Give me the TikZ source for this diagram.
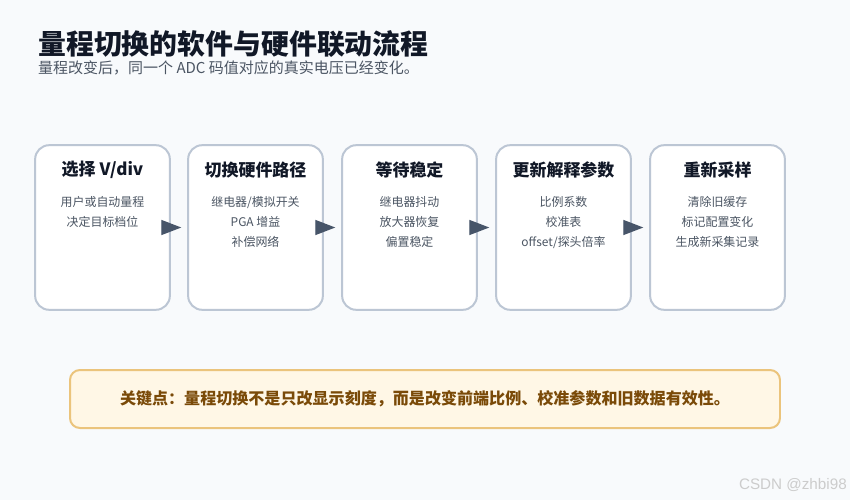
\documentclass[tikz,border=0pt]{standalone}
\usepackage{fontspec}
\setmainfont{Noto Sans CJK SC}
\newfontfamily\markfont{Liberation Sans}
\usepackage{tikz}
\usetikzlibrary{arrows.meta,positioning,calc}
\usepackage{xcolor}
\definecolor{bg}{HTML}{F8FAFC}
\definecolor{ink}{HTML}{111827}
\definecolor{muted}{HTML}{4B5563}
\definecolor{edge}{HTML}{BCC6D4}
\definecolor{flow}{HTML}{475569}
\definecolor{notefill}{HTML}{FFF7E6}
\definecolor{noteedge}{HTML}{EBC47C}
\definecolor{notetext}{HTML}{7A4A08}

\tikzset{
  stage/.style={draw=edge, line width=1.7pt, fill=white, rounded corners=12pt,
    minimum width=115pt, minimum height=140.5pt, inner sep=0pt},
  head/.style={font=\fontsize{14.5}{17}\selectfont\bfseries, text=ink, inner sep=0pt},
  body/.style={font=\fontsize{10.2}{17}\selectfont, text=muted, align=center,
    inner sep=0pt, anchor=north},
  flowarrow/.style={draw=flow, line width=1pt, shorten >=5pt,
    -{Triangle[length=17pt, width=12.8pt]}},
}

\begin{document}
\begin{tikzpicture}[x=0.03cm, y=-0.03cm]
  \path[use as bounding box, fill=bg] (0,0) rectangle (850,500);

  \node[anchor=west, inner sep=0pt, text=ink,
        font=\fontsize{23.8}{28}\selectfont\bfseries] (title) at (38,44)
    {量程切换的软件与硬件联动流程};
  \node[anchor=west, inner sep=0pt, text=muted,
        font=\fontsize{12.8}{15}\selectfont] (sub) at (38,68)
    {量程改变后，同一个 ADC 码值对应的真实电压已经变化。};

  % stages
  \node[stage] (sel)  at (102.5,227.5) {};
  \node[stage] (hw)   at (255.5,227.5) {};
  \node[stage] (wait) at (409.5,227.5) {};
  \node[stage] (upd)  at (563.5,227.5) {};
  \node[stage] (samp) at (717.5,227.5) {};

  \node[head] (selH)  at ($(sel.north)+(0,26)$)  {选择 V/div};
  \node[head] (hwH)   at ($(hw.north)+(0,26)$)   {切换硬件路径};
  \node[head] (waitH) at ($(wait.north)+(0,26)$) {等待稳定};
  \node[head] (updH)  at ($(upd.north)+(0,26)$)  {更新解释参数};
  \node[head] (sampH) at ($(samp.north)+(0,26)$) {重新采样};

  \node[body] at ($(sel.north)+(0,52)$)  {用户或自动量程\\决定目标档位};
  \node[body] at ($(hw.north)+(0,52)$)   {继电器/模拟开关\\PGA 增益\\补偿网络};
  \node[body] at ($(wait.north)+(0,52)$) {继电器抖动\\放大器恢复\\偏置稳定};
  \node[body] at ($(upd.north)+(0,52)$)  {比例系数\\校准表\\offset/探头倍率};
  \node[body] at ($(samp.north)+(0,52)$) {清除旧缓存\\标记配置变化\\生成新采集记录};

  \draw[flowarrow] (sel) -- (hw);
  \draw[flowarrow] (hw) -- (wait);
  \draw[flowarrow] (wait) -- (upd);
  \draw[flowarrow] (upd) -- (samp);

  % key point
  \node[draw=noteedge, line width=1.7pt, fill=notefill, rounded corners=8.5pt,
        minimum width=606pt, minimum height=49.5pt, text=notetext,
        font=\fontsize{13.7}{16}\selectfont\bfseries] (note) at (425,399)
    {关键点：量程切换不是只改显示刻度，而是改变前端比例、校准参数和旧数据有效性。};

  \node[anchor=east, inner sep=0pt, text=black!20,
        font=\markfont\fontsize{13}{15}\selectfont] (mark) at (847,485)
    {CSDN @zhbi98};
\end{tikzpicture}
\end{document}
